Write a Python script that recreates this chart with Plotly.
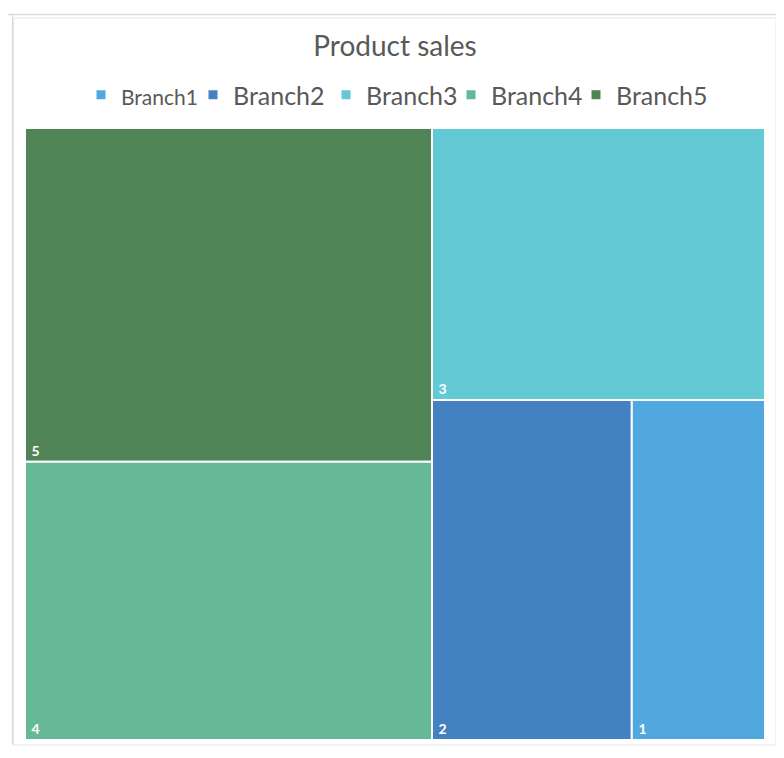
import plotly.graph_objects as go

categories = ["Branch1", "Branch2", "Branch3", "Branch4", "Branch5"]
short_labels = ["1", "2", "3", "4", "5"]
sales = [10, 15, 20, 25, 30]
colors = ["#50A8DE", "#4381C1", "#62C9D5", "#65B997", "#508457"]

W, H = 784, 758
OFF = 8  # browser body margin
FONT = "Lato"
GRAY = "#595959"


def px(x):
    return (x - OFF) / W


def py(y):
    return 1 - (y - OFF) / H


fig = go.Figure()

fig.add_trace(go.Treemap(
    labels=categories,
    parents=[""] * len(categories),
    values=sales,
    text=short_labels,
    texttemplate="\u00a0<b>%{text}</b>",
    textposition="bottom left",
    textfont=dict(family=FONT, size=14, color="white"),
    marker=dict(colors=colors, line=dict(color="white", width=2),
                pad=dict(t=0, l=0, r=0, b=0)),
    tiling=dict(packing="squarify", squarifyratio=1.45, pad=0),
    pathbar=dict(visible=False),
    sort=True,
    domain=dict(x=[px(25), px(765)], y=[py(740), py(128)]),
    hovertemplate="%{label}: %{value}<extra></extra>",
))

legend_sizes = [21, 25, 25, 25, 25]
legend_widths = [67, 88, 80, 80, 90]
for name, col, fs, lw in zip(categories, colors, legend_sizes, legend_widths):
    fig.add_trace(go.Scatter(
        x=[None], y=[None], mode="markers",
        marker=dict(symbol="square", size=9, color=col),
        name=f"<span style='font-size:{fs}px'>{name}</span>",
        legendwidth=lw,
        showlegend=True,
    ))

fig.update_layout(
    width=W, height=H,
    margin=dict(l=0, r=0, t=0, b=0),
    paper_bgcolor="white",
    plot_bgcolor="white",
    font=dict(family=FONT, color=GRAY),
    title=dict(text="Product sales", x=px(395), xanchor="center",
               y=py(46), yanchor="middle",
               font=dict(family=FONT, size=28, color=GRAY)),
    legend=dict(orientation="h", x=px(81), xanchor="left",
                y=py(95), yanchor="middle",
                font=dict(family=FONT, size=25, color=GRAY),
                itemwidth=30, bgcolor="rgba(0,0,0,0)"),
    xaxis=dict(visible=False),
    yaxis=dict(visible=False),
    shapes=[
        dict(type="line", xref="paper", yref="paper",
             x0=px(8), x1=1, y0=py(14.5), y1=py(14.5),
             line=dict(color="#dadada", width=1.5)),
        dict(type="line", xref="paper", yref="paper",
             x0=px(12.5), x1=px(12.5), y0=py(745), y1=py(14),
             line=dict(color="#dadada", width=1)),
        dict(type="rect", xref="paper", yref="paper",
             x0=px(13.5), x1=px(776), y0=py(745), y1=py(18),
             line=dict(color="#e6e6e6", width=1), fillcolor="rgba(0,0,0,0)"),
    ],
)

fig.write_html("out.html")
